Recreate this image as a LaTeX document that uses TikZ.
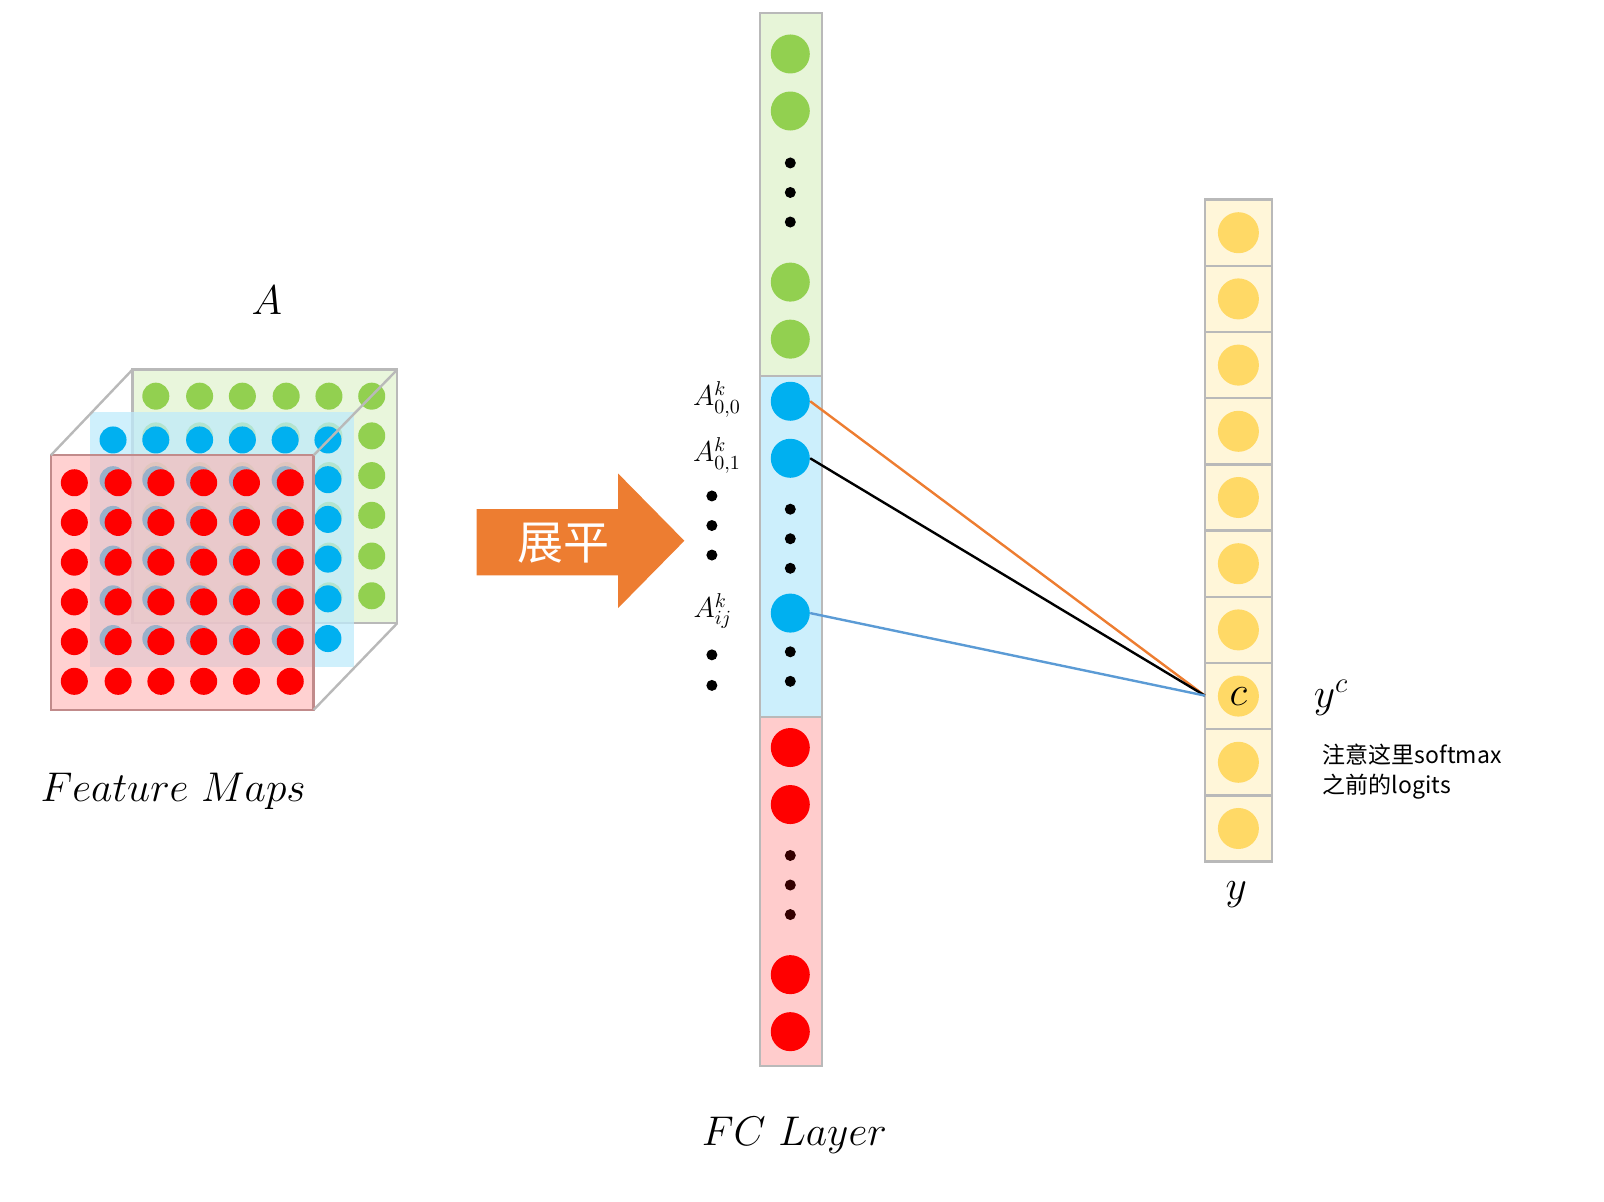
\documentclass[tikz,border=0pt]{standalone}
\usepackage{fontspec}
\newfontfamily\cjk{Noto Sans CJK SC}
\begin{document}
\begin{tikzpicture}[x=0.509pt,y=-0.509pt,
  gdot/.style={circle,fill=green!60!black!60!yellow,inner sep=0,minimum size=13.5pt},
  bdot/.style={circle,fill=cyan!80!blue,inner sep=0,minimum size=13.5pt},
  rdot/.style={circle,fill=red,inner sep=0,minimum size=13.5pt},
  fdot/.style={circle,inner sep=0,minimum size=19.5pt},
  sdot/.style={circle,fill=black,inner sep=0,minimum size=5.5pt},
  ydot/.style={circle,fill=ydc,inner sep=0,minimum size=20.5pt},
  box/.style={draw=gray!55,line width=1.2pt}]
\definecolor{gc}{HTML}{92D050}
\definecolor{bc}{HTML}{00B0F0}
\definecolor{ydc}{HTML}{FFD966}
\definecolor{orn}{HTML}{ED7D31}
\definecolor{lbl}{HTML}{5B9BD5}
\tikzset{gdot/.append style={fill=gc},bdot/.append style={fill=bc}}
\useasboundingbox (0,0) rectangle (1575,1180);
% cube
\fill[gc!22,opacity=0.9] (130,363) rectangle (390,612);
\draw[box] (130,363) rectangle (390,612);
\foreach \x in {153,196,238,281,323,365}\foreach \y in {389,428,467,506,546,585} \node[gdot] at (\x,\y) {};
\fill[bc!25,opacity=0.75] (88,405) rectangle (348,655);
\foreach \x in {111,153,196,238,280,322}\foreach \y in {432,471,510,549,588,627} \node[bdot] at (\x,\y) {};
\fill[red!30,opacity=0.6] (50,447) rectangle (308,697);
\draw[box,draw=red!30!gray!70] (50,447) rectangle (308,697);
\foreach \x in {73,116,158,200,242,285}\foreach \y in {474,513,552,591,630,669} \node[rdot] at (\x,\y) {};
\draw[box] (50,447) -- (130,363) (308,447) -- (390,363) (308,697) -- (390,612);
\node (A) at (262,295) {\huge$A$};
\node (fm) at (170,777) {\huge$Feature\ Maps$};
% arrow
\fill[orn] (468,500) -- (607,500) -- (607,465) -- (672,531) -- (607,597) -- (607,565) -- (468,565) -- cycle;
\node[text=white] (flat) at (553,533) {\cjk\fontsize{23}{23}\selectfont 展平};
% FC column
\fill[gc!22] (746,13) rectangle (807,369);
\fill[bc!20] (746,369) rectangle (807,704);
\fill[red!20] (746,704) rectangle (807,1047);
\draw[box] (746,13) rectangle (807,1047) (746,369) -- (807,369) (746,704) -- (807,704);
\foreach \y in {53,109,277,333} \node[fdot,fill=gc] at (776,\y) {};
\foreach \y in {734,790,957,1013} \node[fdot,fill=red] at (776,\y) {};
\node[fdot,fill=bc] (b1) at (776,394) {};
\node[fdot,fill=bc] (b2) at (776,450) {};
\node[fdot,fill=bc] (b3) at (776,602) {};
\foreach \y in {160,189,218,500,529,558,640,669} \node[sdot] at (776,\y) {};
\foreach \y in {840,869,898} \node[sdot,fill=black!80!red] at (776,\y) {};
\node[inner sep=0] (l1) at (704,392) {\Large$A^k_{0,0}$};
\node[inner sep=0] (l2) at (704,447) {\Large$A^k_{0,1}$};
\node[inner sep=0] (l3) at (700,600) {\Large$A^k_{ij}$};
\foreach \y in {487,516,545,643,673} \node[sdot] at (699,\y) {};
% output column
\foreach \i in {0,...,9}{
  \fill[ydc!25] (1183,196+65*\i) rectangle (1249,261+65*\i);
  \draw[box] (1183,196+65*\i) rectangle (1249,261+65*\i);
  \node[ydot] (y\i) at (1216,228.5+65*\i) {};
}
\node at (y7) {\huge$c$};
\coordinate (tgt) at (1183,683);
\draw[orn,line width=1.2pt] (b1.east) -- (tgt);
\draw[black,line width=1.2pt] (b2.east) -- (tgt);
\draw[lbl,line width=1.2pt] (b3.east) -- (tgt);
\node (yc) at (1307,685) {\huge$y^c$};
\node[align=left,anchor=west,font=\cjk\fontsize{11.5}{15}\selectfont] (note) at (1292,758) {注意这里softmax\\之前的logits};
\node (yy) at (1214,878) {\huge$y$};
\node (fc) at (780,1115) {\huge$FC\ Layer$};
\end{tikzpicture}
\end{document}
